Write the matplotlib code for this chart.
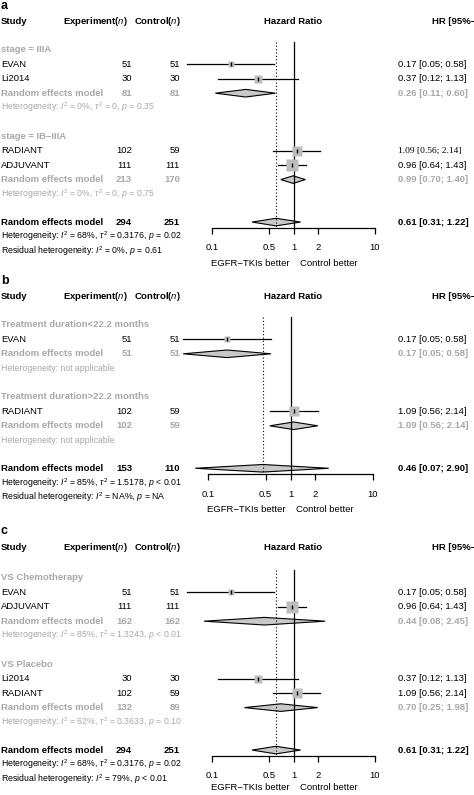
import matplotlib
matplotlib.use("Agg")
import matplotlib.pyplot as plt
import numpy as np
from matplotlib.transforms import blended_transform_factory as btf

plt.rcParams['font.family'] = ['Liberation Sans', 'DejaVu Sans']
plt.rcParams['mathtext.fontset'] = 'custom'
plt.rcParams['mathtext.rm'] = 'Liberation Sans'
plt.rcParams['mathtext.it'] = 'Liberation Sans:italic'
plt.rcParams['mathtext.bf'] = 'Liberation Sans:bold'

W, H = 474, 795
GREY = '#a8a8a8'

# ---- data ----
panel_labels = ['a', 'b', 'c']
subgroups = [
    ['stage = IIIA', 'stage = IB\u2212IIIA'],
    ['Treatment duration<22.2 months', 'Treatment duration>22.2 months'],
    ['VS Chemotherapy', 'VS Placebo'],
]
studies = [
    [['EVAN', 'Li2014'], ['RADIANT', 'ADJUVANT']],
    [['EVAN'], ['RADIANT']],
    [['EVAN', 'ADJUVANT'], ['Li2014', 'RADIANT']],
]
study_hr = {'EVAN': (0.17, 0.05, 0.58), 'Li2014': (0.37, 0.12, 1.13),
            'RADIANT': (1.09, 0.56, 2.14), 'ADJUVANT': (0.96, 0.64, 1.43)}
study_n = {'EVAN': (51, 51), 'Li2014': (30, 30), 'RADIANT': (102, 59), 'ADJUVANT': (111, 111)}
study_weight = {'EVAN': 5, 'Li2014': 6, 'RADIANT': 7.5, 'ADJUVANT': 8}
sub_re = [
    [(0.26, 0.11, 0.60), (0.99, 0.70, 1.40)],
    [(0.17, 0.05, 0.58), (1.09, 0.56, 2.14)],
    [(0.44, 0.08, 2.45), (0.70, 0.25, 1.98)],
]
sub_n = [
    [(81, 81), (213, 170)],
    [(51, 51), (102, 59)],
    [(162, 162), (132, 89)],
]
sub_het = [
    [r'Heterogeneity: $I^2$ = 0%, $\tau^2$ = 0, $p$ = 0.35',
     r'Heterogeneity: $I^2$ = 0%, $\tau^2$ = 0, $p$ = 0.75'],
    ['Heterogeneity: not applicable', 'Heterogeneity: not applicable'],
    [r'Heterogeneity: $I^2$ = 85%, $\tau^2$ = 1.3243, $p$ < 0.01',
     r'Heterogeneity: $I^2$ = 62%, $\tau^2$ = 0.3633, $p$ = 0.10'],
]
overall = [(0.61, 0.31, 1.22), (0.46, 0.07, 2.90), (0.61, 0.31, 1.22)]
overall_n = [(294, 251), (153, 110), (294, 251)]
overall_het = [r'Heterogeneity: $I^2$ = 68%, $\tau^2$ = 0.3176, $p$ = 0.02',
               r'Heterogeneity: $I^2$ = 85%, $\tau^2$ = 1.5178, $p$ < 0.01',
               r'Heterogeneity: $I^2$ = 68%, $\tau^2$ = 0.3176, $p$ = 0.02']
resid_het = [r'Residual heterogeneity: $I^2$ = 0%, $p$ = 0.61',
             r'Residual heterogeneity: $I^2$ = NA%, $p$ = NA',
             r'Residual heterogeneity: $I^2$ = 79%, $p$ < 0.01']
ticks = [0.1, 0.5, 1, 2, 10]
tick_labels = ['0.1', '0.5', '1', '2', '10']

# ---- layout (pixels) ----
panel_top = [0, 275, 525]
axpx = [(212, 375), (208, 373), (212, 375)]
hdr_dy = 22
sub_first_dy = [50, 50, 53]
row_h = 14.4

fig = plt.figure(figsize=(W / 100, H / 100), dpi=100)
fs = 6.8
fs_small = 6.3

def fx(px):
    return px / W

def fmt(t):
    return f"{t[0]:.2f} [{t[1]:.2f}; {t[2]:.2f}]"

for p in range(3):
    top = panel_top[p]
    x01, x10 = axpx[p]
    dec = (x10 - x01) / 2.0
    xmin, xmax = 0.03, 30
    left_px = x01 + dec * (np.log10(xmin) + 1)
    right_px = x01 + dec * (np.log10(xmax) + 1)
    y = top + sub_first_dy[p]
    rows = []
    for g in range(2):
        rows.append(('sub', g, y)); y += row_h
        for s in studies[p][g]:
            rows.append(('study', s, y)); y += row_h
        rows.append(('re', g, y)); y += row_h
        rows.append(('het', g, y)); y += row_h * 2
    y -= row_h * 0.05
    y_over = y
    axis_y = y_over + 6
    y_oh = y_over + row_h
    y_res = y_over + 2 * row_h
    ax_top = top + hdr_dy - 6
    ax_bot = axis_y
    ax = fig.add_axes([fx(left_px), 1 - ax_bot / H, fx(right_px - left_px), (ax_bot - ax_top) / H])
    ax.set_xscale('log')
    ax.set_xlim(xmin, xmax)
    ax.set_ylim(ax_bot, ax_top)
    for sp in ['top', 'right', 'left']:
        ax.spines[sp].set_visible(False)
    ax.spines['bottom'].set_bounds(0.1, 10)
    ax.spines['bottom'].set_linewidth(0.9)
    ax.set_yticks([])
    ax.set_xticks(ticks)
    ax.set_xticklabels(tick_labels, fontsize=fs)
    ax.xaxis.set_minor_locator(matplotlib.ticker.NullLocator())
    ax.tick_params(axis='x', direction='out', length=4, width=0.9, pad=7)
    ax.patch.set_alpha(0)
    vtop = rows[0][2] - 8
    ax.plot([1, 1], [vtop, ax_bot], color='black', lw=0.9, clip_on=False)
    ax.plot([overall[p][0]] * 2, [vtop, ax_bot], color='black', lw=0.8, ls=(0, (1, 2)), clip_on=False)
    T = btf(fig.transFigure, ax.transData)

    def txt(px, yy, s, **kw):
        kw.setdefault('fontsize', fs)
        kw.setdefault('va', 'center')
        ax.text(fx(px), yy, s, transform=T, clip_on=False, **kw)

    def diamond(t, yy, h=3.8):
        ax.fill([t[1], t[0], t[2], t[0]], [yy, yy - h, yy, yy + h],
                facecolor='#c8c8c8', edgecolor='black', lw=0.8, clip_on=False)

    hy = top + hdr_dy
    txt(1, hy, 'Study', fontweight='bold')
    txt(128, hy, r'Experiment($\mathit{n}$)', fontweight='bold', ha='right')
    txt(181, hy, r'Control($\mathit{n}$)', fontweight='bold', ha='right')
    txt(293, hy, 'Hazard Ratio', fontweight='bold', ha='center')
    txt(432, hy, 'HR [95%\u2212CI]', fontweight='bold')
    fig.text(0.002, 1 - (top + 6) / H, panel_labels[p], fontsize=9, fontweight='bold', va='center')

    for kind, key, yy in rows:
        if kind == 'sub':
            txt(1, yy, subgroups[p][key], color=GREY, fontweight='bold')
        elif kind == 'study':
            e, c = study_n[key]
            t = study_hr[key]
            txt(1, yy, key)
            txt(132, yy, str(e), ha='right')
            txt(180, yy, str(c), ha='right')
            if p == 0 and key == 'RADIANT':
                txt(398, yy, fmt(t), family='Liberation Serif')
            else:
                txt(398, yy, fmt(t))
            ax.plot([t[1], t[2]], [yy, yy], color='black', lw=0.9, clip_on=False)
            ax.plot([t[0]], [yy], marker='s', ms=study_weight[key], color='#bdbdbd', mec='none', clip_on=False)
            ax.plot([t[0]], [yy], marker='|', ms=3, color='black', clip_on=False)
        elif kind == 're':
            e, c = sub_n[p][key]
            txt(1, yy, 'Random effects model', color=GREY, fontweight='bold')
            txt(132, yy, str(e), ha='right', color=GREY, fontweight='bold')
            txt(180, yy, str(c), ha='right', color=GREY, fontweight='bold')
            txt(398, yy, fmt(sub_re[p][key]), color=GREY, fontweight='bold')
            diamond(sub_re[p][key], yy)
        elif kind == 'het':
            txt(1, yy, sub_het[p][key], color=GREY, fontsize=fs_small)
    txt(1, y_over, 'Random effects model', fontweight='bold')
    txt(132, y_over, str(overall_n[p][0]), ha='right', fontweight='bold')
    txt(180, y_over, str(overall_n[p][1]), ha='right', fontweight='bold')
    txt(398, y_over, fmt(overall[p]), fontweight='bold')
    diamond(overall[p], y_over)
    txt(1, y_oh, overall_het[p], fontsize=fs_small)
    txt(1, y_res, resid_het[p], fontsize=fs_small)
    ly = min(axis_y + 35, H - 7)
    txt(x01 + 38, ly, 'EGFR\u2212TKIs better', ha='center')
    txt(x01 + 117, ly, 'Control better', ha='center')

fig.savefig('out.png', dpi=100)
